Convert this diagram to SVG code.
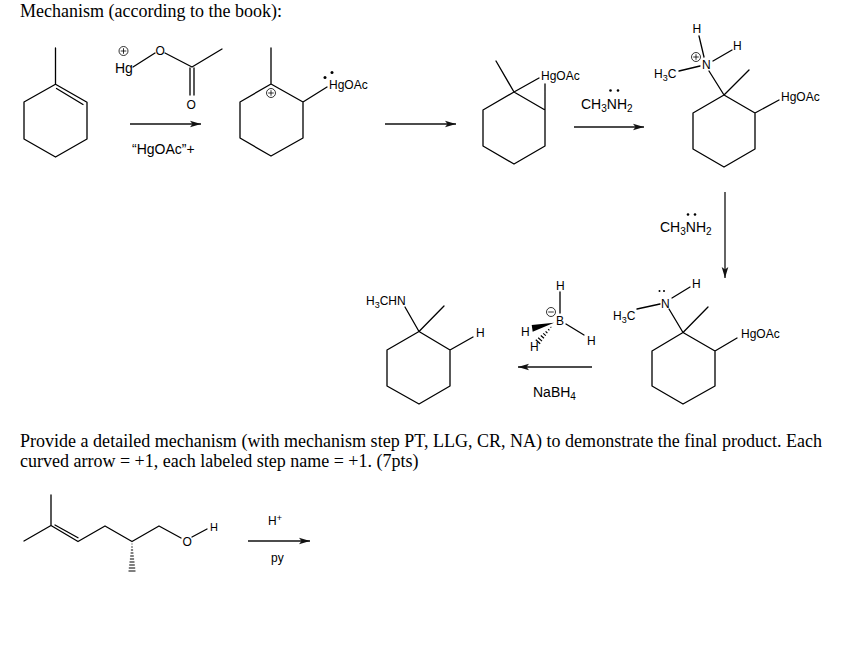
<svg xmlns="http://www.w3.org/2000/svg" width="860" height="657" viewBox="0 0 860 657">
<style>
.s{font-family:"Liberation Serif","Times New Roman",serif;font-size:18px;fill:#000}
.a{font-family:"Liberation Sans",Arial,sans-serif;font-size:12px;fill:#000}
.b{stroke:#000;stroke-width:1.3;fill:none;stroke-linecap:round;stroke-linejoin:round}
.c{stroke:#111;stroke-width:1.3;fill:none}
.g{fill:none;stroke:#000;stroke-width:.8}
.d{fill:#000}
.l{font-size:14px}
.m{font-size:10px}
.t{font-size:9px}
</style>
<defs>
<marker id="ah" markerUnits="userSpaceOnUse" markerWidth="12" markerHeight="8" refX="11" refY="4" orient="auto"><path d="M0 .7 L11 4 L0 7.300 L2.500 4Z" fill="#111"/></marker>
<g id="plus"><circle r="4.500" class="g"/><path d="M-2.800 0H2.800M0-2.800V2.800" class="g"/></g>
<g id="minus"><circle r="4.500" class="g"/><path d="M-2.800 0H2.800" class="g"/></g>
</defs>
<rect width="860" height="657" fill="#fff"/>
<g id="title"><text class="s" x="20" y="17">Mechanism (according to the book):</text></g>
<g id="alkene">
<path class="b" d="M55.500 48V84.300L87 102.300V139L55.500 157L24 139V102L55.500 84.300M56.500 88.500L83 104.500"/>
</g>
<g id="hgoac-reagent">
<use href="#plus" x="123.500" y="51"/>
<text class="a l" x="115" y="73">Hg</text>
<text class="a" x="155.500" y="54.500">O</text>
<text class="a" x="186.500" y="108.500">O</text>
<path class="b" d="M133 67L155 53M165 53L192 67L222 49M190 68V95M194 68V95"/>
</g>
<g id="carbocation">
<path class="b" d="M271 48V84L303 102V138L271 156L240 138V102L271 84M303 102L327 87"/>
<use href="#plus" x="271" y="93"/>
<circle class="d" cx="325" cy="77.500" r="1.500"/><circle class="d" cx="332" cy="72.500" r="1.500"/>
<text class="a" x="329" y="89">HgOAc</text>
</g>
<g id="bridged">
<path class="b" d="M496 61L514 92L545 110V146L514 164L483 146V110L514 92L539 78M545 110V84"/>
<text class="a" x="541" y="80">HgOAc</text>
</g>
<g id="ammonium">
<path class="b" d="M749 70L724 95L755 113V149L724 167L693 149V113L724 95L709 71M679 71L700 66M699 36L704 57M732 50L713 61M755 113L779 100"/>
<text class="a" x="692.500" y="33">H</text>
<text class="a" x="733" y="50">H</text>
<use href="#plus" x="696" y="57"/>
<text class="a" x="702" y="69">N</text>
<text class="a" x="654" y="78">H<tspan class="t" dy="3">3</tspan><tspan dy="-3">C</tspan></text>
<text class="a" x="781" y="101">HgOAc</text>
</g>
<g id="amine">
<path class="b" d="M708 307L683 332.500L715 351V386L683 404L652 386V351L683 332.500L669 309M637 309L660 304M690 287L672 298M715 351L737 338"/>
<text class="a" x="692" y="288">H</text>
<circle class="d" cx="659.500" cy="291" r="1"/><circle class="d" cx="664" cy="291" r="1"/>
<text class="a" x="661" y="308">N</text>
<text class="a" x="613" y="320">H<tspan class="t" dy="3">3</tspan><tspan dy="-3">C</tspan></text>
<text class="a" x="741" y="338">HgOAc</text>
</g>
<g id="product">
<path class="b" d="M444 306L419 331.500L450 350V386L419 404L387 386V350L419 331.500L405 307M450 350L473 337"/>
<text class="a" x="366" y="305">H<tspan class="t" dy="3">3</tspan><tspan dy="-3">CHN</tspan></text>
<text class="a" x="476" y="337">H</text>
</g>
<g id="borohydride">
<use href="#minus" x="551" y="312"/>
<text class="a" x="556" y="325">B</text>
<text class="a" x="556" y="290">H</text>
<text class="a" x="521" y="335.500">H</text>
<text class="a" x="530" y="351">H</text>
<text class="a" x="587" y="345">H</text>
<path class="b" d="M560 292V313M566 324L584 335"/>
<path d="M554 322.700L531.700 325L532.700 331.700Z" fill="#000"/>
<path class="g" style="stroke-width:1.200" d="M550.600 327L551.200 327.600M548.200 329.100L549.400 330.300M545.600 331.300L547.400 333.100M543.200 333.400L545.800 335.600M540.800 335.500L544 338.300M538.200 337.700L542 341.100M535.800 339.700L540.200 343.700"/>
</g>
<g id="alcohol">
<path class="b" d="M24 541L51 525.500V495M51 525.500L78 541.500L105 526L132 541.500L159 526L181 538M55 525L78 537.700M192 537L207 529"/>
<text class="a" x="182.500" y="546">O</text>
<text class="a" x="210" y="530.500" style="font-size:11px">H</text>
<path class="g" style="stroke-width:1.200" d="M131.600 544H132.400M131.300 547H132.700M130.900 550H133.100M130.600 553H133.400M130.200 556H133.800M129.900 559H134.100M129.500 562H134.500M129.200 565H134.800M128.800 568H135.200M128.500 571H135.500"/>
</g>
<g id="connectors">
<path class="c" marker-end="url(#ah)" d="M130 124H201"/>
<path class="c" marker-end="url(#ah)" d="M385 124H456"/>
<path class="c" marker-end="url(#ah)" d="M574 127H644"/>
<path class="c" marker-end="url(#ah)" d="M725 192V278"/>
<path class="c" marker-end="url(#ah)" d="M592 367H518"/>
<path class="c" marker-end="url(#ah)" d="M248 541H310"/>
</g>
<g id="labels">
<text class="a l" x="132" y="154">“HgOAc”+</text>
<circle class="d" cx="610.500" cy="90.500" r="1.300"/><circle class="d" cx="618" cy="90.500" r="1.300"/>
<text class="a l" x="581" y="109">CH<tspan class="m" dy="3">3</tspan><tspan dy="-3">NH</tspan><tspan class="m" dy="3">2</tspan></text>
<circle class="d" cx="688" cy="214.500" r="1.300"/><circle class="d" cx="695" cy="214.500" r="1.300"/>
<text class="a l" x="660" y="232">CH<tspan class="m" dy="3">3</tspan><tspan dy="-3">NH</tspan><tspan class="m" dy="3">2</tspan></text>
<text class="a l" x="533" y="397">NaBH<tspan class="m" dy="3">4</tspan></text>
<text class="a" x="268" y="525">H<tspan class="t" dy="-4">+</tspan></text>
<text class="a" x="271" y="562">py</text>
</g>
<g id="question">
<text class="s" x="20" y="447" textLength="802">Provide a detailed mechanism (with mechanism step PT, LLG, CR, NA) to demonstrate the final product. Each</text>
<text class="s" x="20" y="467">curved arrow = +1, each labeled step name = +1. (7pts)</text>
</g>
</svg>
